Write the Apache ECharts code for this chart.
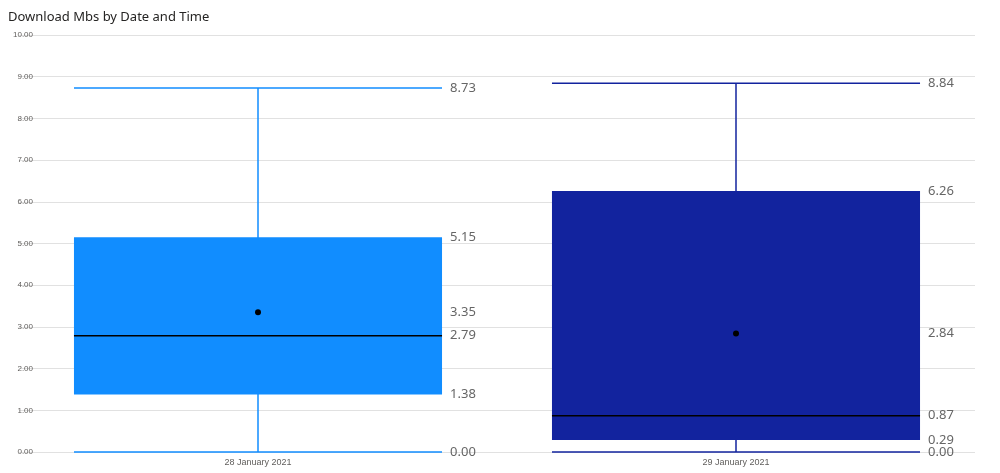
<!DOCTYPE html>
<html><head><meta charset="utf-8">
<script src="https://cdn.jsdelivr.net/npm/echarts@6/dist/echarts.min.js"></script>
<style>html,body{margin:0;padding:0;background:#fff}#c{width:1000px;height:473px}</style>
</head><body><div id="c"></div>
<script>
const categories = ['28 January 2021', '29 January 2021'];
const mins = [0, 0];
const q1s = [1.38, 0.29];
const medians = [2.79, 0.87];
const q3s = [5.15, 6.26];
const maxs = [8.73, 8.84];
const means = [3.35, 2.84];
const colors = ['#118DFF', '#12239E'];
const yTicks = [0,1,2,3,4,5,6,7,8,9,10];

const data = categories.map((c, i) => [i, mins[i], q1s[i], medians[i], q3s[i], maxs[i], means[i]]);
const chart = echarts.init(document.getElementById('c'));
chart.setOption({
  animation: false,
  title: { text: 'Download Mbs by Date and Time', left: 3, top: 6, textStyle: { fontSize: 13, fontWeight: 'normal', color: '#252423', fontFamily: 'Segoe UI, Noto Sans, sans-serif' } },
  grid: { left: 19, right: 25, top: 35, bottom: 21, containLabel: false },
  xAxis: { type: 'category', data: categories, axisLine: { show: false }, axisTick: { show: false },
    axisLabel: { fontSize: 9, color: '#605E5C', margin: 6 } },
  yAxis: { type: 'value', min: 0, max: 10, interval: 1,
    axisLabel: { inside: false, fontSize: 8, color: '#605E5C', formatter: v => v.toFixed(2), margin: -14, padding:[0,0,0,0] },
    splitLine: { lineStyle: { color: '#E1E1E1' } } },
  series: [{
    type: 'custom', data: data,
    renderItem: function (params, api) {
      const i = api.value(0);
      const col = colors[i];
      const bw = api.size([1, 0])[0] * 0.77;
      const cx = api.coord([i, 0])[0];
      const xl = cx - bw / 2, xr = cx + bw / 2;
      const y = k => api.coord([i, api.value(k)])[1];
      const yMin = y(1), yQ1 = y(2), yMed = y(3), yQ3 = y(4), yMax = y(5), yMean = y(6);
      const lbl = (v, yy) => ({ type: 'text', style: { text: v.toFixed(2), x: xr + 8, y: yy, verticalAlign: 'middle', fill: '#666666', fontSize: 13, fontFamily: 'Segoe UI, Noto Sans, sans-serif' } });
      const ls = { stroke: col, lineWidth: 1.5 };
      return { type: 'group', children: [
        { type: 'line', shape: { x1: cx, y1: yMax, x2: cx, y2: yMin }, style: ls },
        { type: 'line', shape: { x1: xl, y1: yMax, x2: xr, y2: yMax }, style: ls },
        { type: 'line', shape: { x1: xl, y1: yMin, x2: xr, y2: yMin }, style: ls },
        { type: 'rect', shape: { x: xl, y: yQ3, width: bw, height: yQ1 - yQ3 }, style: { fill: col } },
        { type: 'line', shape: { x1: xl, y1: yMed, x2: xr, y2: yMed }, style: { stroke: '#000', lineWidth: 1.5 } },
        { type: 'circle', shape: { cx: cx, cy: yMean, r: 3 }, style: { fill: '#000' } },
        lbl(api.value(5), yMax), lbl(api.value(4), yQ3), lbl(api.value(6), yMean),
        lbl(api.value(3), yMed), lbl(api.value(2), yQ1), lbl(api.value(1), yMin)
      ]};
    }
  }]
});
</script></body></html>
